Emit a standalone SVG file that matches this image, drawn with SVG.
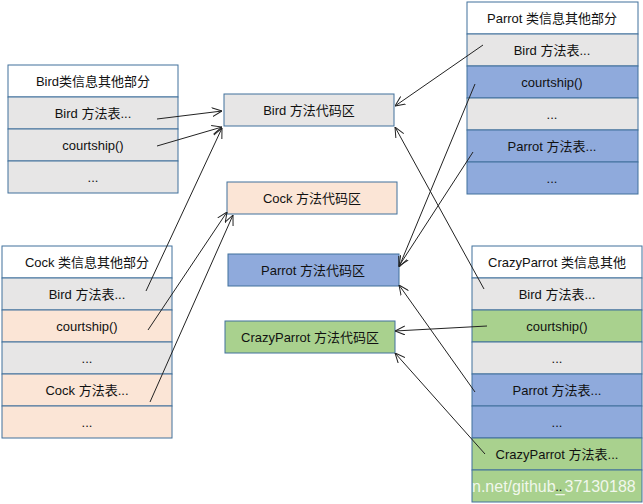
<svg xmlns="http://www.w3.org/2000/svg" width="643" height="504" viewBox="0 0 643 504">
<style>
rect{stroke:#41719c;stroke-width:1}
.w{fill:#ffffff}.g{fill:#e7e6e6}.p{fill:#fbe5d6}.b{fill:#8faadc}.gr{fill:#a9d18e}
text{font-family:"Liberation Sans","Noto Sans CJK SC",sans-serif;font-size:13px;fill:#111;text-anchor:middle;dominant-baseline:central}
.c line{stroke:#222;stroke-width:1;marker-end:url(#ah)}
</style>
<defs>
<marker id="ah" viewBox="0 0 10 10" refX="10" refY="5" markerWidth="10" markerHeight="10" orient="auto" markerUnits="userSpaceOnUse">
<path d="M0,0.5 L10,5 L0,9.5" fill="none" stroke="#222" stroke-width="1"/>
</marker>
</defs>
<rect width="643" height="504" fill="#ffffff" style="stroke:none"/>

<g id="bird-class">
<rect class="w" x="8" y="65" width="170" height="32"/>
<rect class="g" x="8" y="97" width="170" height="32"/>
<rect class="g" x="8" y="129" width="170" height="32"/>
<rect class="g" x="8" y="161" width="170" height="32"/>
<text x="93" y="81">Bird类信息其他部分</text>
<text x="93" y="113">Bird 方法表...</text>
<text x="93" y="145">courtship()</text>
<text x="93" y="177">...</text>
</g>

<g id="cock-class">
<rect class="w" x="2" y="246" width="170" height="32"/>
<rect class="g" x="2" y="278" width="170" height="32"/>
<rect class="p" x="2" y="310" width="170" height="32"/>
<rect class="g" x="2" y="342" width="170" height="32"/>
<rect class="p" x="2" y="374" width="170" height="32"/>
<rect class="p" x="2" y="406" width="170" height="32"/>
<text x="87" y="262">Cock 类信息其他部分</text>
<text x="87" y="294">Bird 方法表...</text>
<text x="87" y="326">courtship()</text>
<text x="87" y="358">...</text>
<text x="87" y="390">Cock 方法表...</text>
<text x="87" y="422">...</text>
</g>

<g id="parrot-class">
<rect class="w" x="467" y="2" width="171" height="32"/>
<rect class="g" x="467" y="34" width="171" height="32"/>
<rect class="b" x="467" y="66" width="171" height="32"/>
<rect class="g" x="467" y="98" width="171" height="32"/>
<rect class="b" x="467" y="130" width="171" height="32"/>
<rect class="b" x="467" y="162" width="171" height="32"/>
<text x="552" y="18">Parrot 类信息其他部分</text>
<text x="552" y="50">Bird 方法表...</text>
<text x="552" y="82">courtship()</text>
<text x="552" y="114">...</text>
<text x="552" y="146">Parrot 方法表...</text>
<text x="552" y="178">...</text>
</g>

<g id="crazyparrot-class">
<rect class="w" x="472" y="246" width="170" height="32"/>
<rect class="g" x="472" y="278" width="170" height="32"/>
<rect class="gr" x="472" y="310" width="170" height="32"/>
<rect class="g" x="472" y="342" width="170" height="32"/>
<rect class="b" x="472" y="374" width="170" height="32"/>
<rect class="b" x="472" y="406" width="170" height="32"/>
<rect class="gr" x="472" y="438" width="170" height="32"/>
<rect class="gr" x="472" y="470" width="170" height="32"/>
<text x="557" y="262">CrazyParrot 类信息其他</text>
<text x="557" y="294">Bird 方法表...</text>
<text x="557" y="326">courtship()</text>
<text x="557" y="358">...</text>
<text x="557" y="390">Parrot 方法表...</text>
<text x="557" y="422">...</text>
<text x="557" y="454">CrazyParrot 方法表...</text>
<text x="557" y="486">...</text>
</g>

<g id="bird-code">
<rect class="g" x="224" y="94" width="170" height="32"/>
<text x="309" y="110">Bird 方法代码区</text>
</g>
<g id="cock-code">
<rect class="p" x="227" y="182" width="170" height="32"/>
<text x="312" y="198">Cock 方法代码区</text>
</g>
<g id="parrot-code">
<rect class="b" x="228" y="254" width="171" height="32"/>
<text x="313" y="270">Parrot 方法代码区</text>
</g>
<g id="crazyparrot-code">
<rect class="gr" x="225" y="321" width="170" height="32"/>
<text x="310" y="337">CrazyParrot 方法代码区</text>
</g>

<g id="connectors" class="c">
<line x1="157" y1="119" x2="222" y2="111"/>
<line x1="157" y1="146" x2="222" y2="127"/>
<line x1="146" y1="291" x2="222" y2="128"/>
<line x1="148" y1="330" x2="227" y2="212"/>
<line x1="150" y1="402" x2="233" y2="215"/>
<line x1="483" y1="45" x2="395" y2="106"/>
<line x1="475" y1="84" x2="399" y2="267"/>
<line x1="473" y1="152" x2="399" y2="266"/>
<line x1="484" y1="289" x2="395" y2="127"/>
<line x1="487" y1="326" x2="395" y2="331"/>
<line x1="475" y1="392" x2="399" y2="285"/>
<line x1="485" y1="454" x2="395" y2="353"/>
</g>

<text x="472" y="486" style="font-size:16px;fill:#ffffff;fill-opacity:0.85;text-anchor:start;font-family:'Liberation Sans',Arial,sans-serif">n.net/github_37130188</text>
</svg>
